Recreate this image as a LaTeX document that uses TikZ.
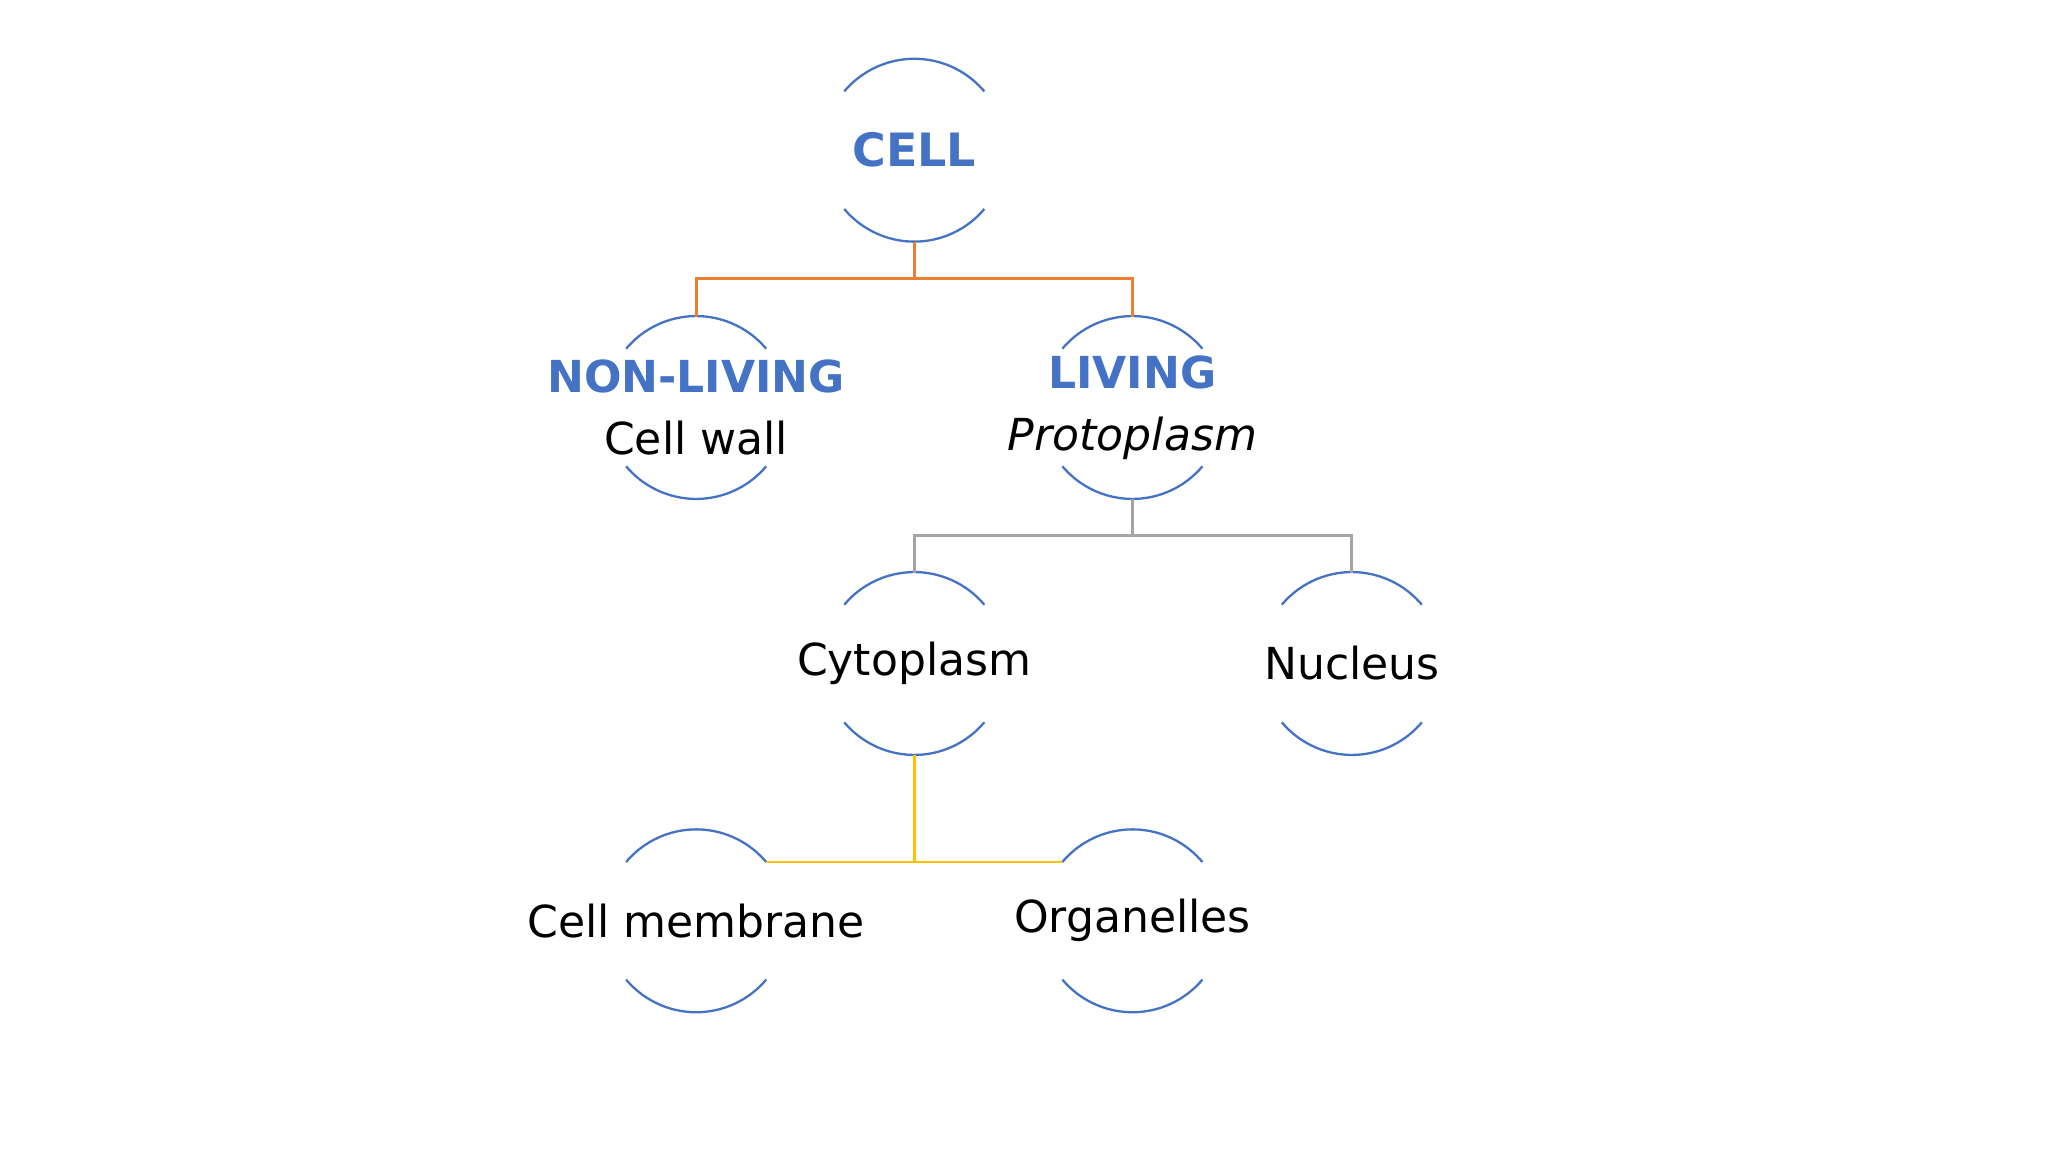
\documentclass[tikz,border=0pt]{standalone}
\usepackage{fontspec}
\setmainfont{DejaVu Sans}
\begin{document}
\definecolor{cblue}{HTML}{4472C4}
\definecolor{corange}{HTML}{ED7D31}
\definecolor{cgray}{HTML}{A5A5A5}
\definecolor{cyellow}{HTML}{FFC000}
\begin{tikzpicture}[x=0.01cm,y=-0.01cm,
  lbl/.style={font=\fontsize{9.6}{13.4}\selectfont, align=center, inner sep=0pt},
  hd/.style={text=cblue, font=\bfseries},
  arcs/.style={cblue, line width=0.5pt},
  con/.style={line width=0.6pt}]
\useasboundingbox (0,0) rectangle (1568,882);
\newcommand{\circarcs}[1]{%
  \draw[arcs] ([shift={(140:70)}]#1) arc[start angle=140,end angle=40,radius=70];
  \draw[arcs] ([shift={(220:70)}]#1) arc[start angle=220,end angle=320,radius=70];}
\coordinate (pc) at (700,115);
\coordinate (pn) at (533,312);
\coordinate (pl) at (867,312);
\coordinate (py) at (700,508);
\coordinate (pu) at (1035,508);
\coordinate (pm) at (533,705);
\coordinate (po) at (867,705);
\foreach \p in {pc,pn,pl,py,pu,pm,po}{\circarcs{\p}}
\node[lbl, hd] (cell) at (pc) {CELL};
\node[lbl] (nonliving) at (pn) {\textcolor{cblue}{\bfseries NON-LIVING}\\Cell wall};
\node[lbl] (living) at (pl) {\textcolor{cblue}{\bfseries LIVING}\\\textit{Protoplasm}};
\node[lbl] (cyto) at (py) {Cytoplasm};
\node[lbl] (nuc) at (pu) {Nucleus};
\node[lbl] (mem) at (pm) {Cell membrane};
\node[lbl] (org) at (po) {Organelles};
\coordinate (c1) at (700,185);
\draw[con, corange] (c1) -- (700,213) -| (533,243);
\draw[con, corange] (700,213) -| (867,243);
\coordinate (l1) at (867,382);
\draw[con, cgray] (l1) -- (867,410) -| (700,439);
\draw[con, cgray] (867,410) -| (1035,439);
\coordinate (y1) at (700,578);
\coordinate (ml) at (587,660);
\coordinate (mr) at (813,660);
\draw[con, cyellow] (y1) -- (700,660);
\draw[con, cyellow] (ml) -- (mr);
\end{tikzpicture}
\end{document}
